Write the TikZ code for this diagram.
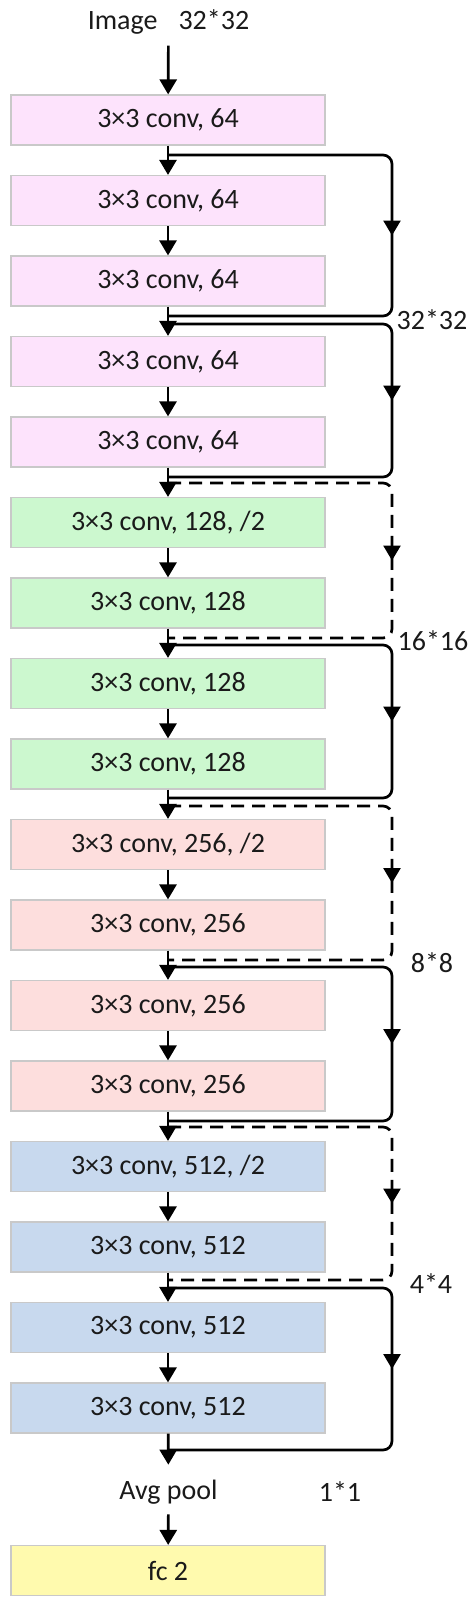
\documentclass[tikz,border=0pt]{standalone}
\usepackage{fontspec}
\setmainfont{Carlito}
\usetikzlibrary{arrows.meta,decorations.markings}
\definecolor{ConvPink}{HTML}{FDE3FC}
\definecolor{ConvGreen}{HTML}{CCF8CF}
\definecolor{ConvRed}{HTML}{FDDEDD}
\definecolor{ConvBlue}{HTML}{C8D9EE}
\definecolor{FcYellow}{HTML}{FFFAAE}
\definecolor{BoxLine}{HTML}{C9C9C9}
\definecolor{InkText}{HTML}{1A1A1A}

\begin{document}
\begin{tikzpicture}[x=1pt,y=-1pt,
    layer/.style={draw=BoxLine,line width=1.2pt,minimum width=314pt,minimum height=50pt,
      inner sep=0pt,text=InkText,font=\fontsize{28}{32}\selectfont},
    lbl/.style={inner sep=0pt,text=InkText,font=\fontsize{28}{32}\selectfont},
    flow/.style={line width=2.7pt,-{Triangle[length=15pt,width=17pt]}},
    skip/.style={line width=2.7pt,rounded corners=9pt,postaction={decorate},
      decoration={markings,mark=at position 0.5 with {\arrow{Triangle[length=15pt,width=17pt]}}}},
    proj/.style={skip,dash pattern=on 13pt off 8pt}]
  \useasboundingbox (0,0) rectangle (474,1604);
  \node[lbl] (img) at (168.5,22) {Image\hspace{21pt}32*32};
  % conv layers
  \foreach \i/\txt/\col in {1/{3×3 conv, 64}/ConvPink,2/{3×3 conv, 64}/ConvPink,3/{3×3 conv, 64}/ConvPink,
      4/{3×3 conv, 64}/ConvPink,5/{3×3 conv, 64}/ConvPink,
      6/{3×3 conv, 128, /2}/ConvGreen,7/{3×3 conv, 128}/ConvGreen,8/{3×3 conv, 128}/ConvGreen,9/{3×3 conv, 128}/ConvGreen,
      10/{3×3 conv, 256, /2}/ConvRed,11/{3×3 conv, 256}/ConvRed,12/{3×3 conv, 256}/ConvRed,13/{3×3 conv, 256}/ConvRed,
      14/{3×3 conv, 512, /2}/ConvBlue,15/{3×3 conv, 512}/ConvBlue,16/{3×3 conv, 512}/ConvBlue,17/{3×3 conv, 512}/ConvBlue} {
    \node[layer,fill=\col] (c\i) at (168,{120+(\i-1)*80.5}) {\txt};
  }
  \node[lbl] (pool) at (168.5,1492) {Avg pool};
  \node[layer,fill=FcYellow] (fc) at (168,1570.5) {fc 2};
  % feature map sizes
  \node[lbl] (s32) at (432,320) {32*32};
  \node[lbl] (s16) at (433,641) {16*16};
  \node[lbl] (s8) at (432,963) {8*8};
  \node[lbl] (s4) at (431,1284) {4*4};
  \node[lbl] (s1) at (340,1492) {1*1};
  % main flow
  \draw[flow,shorten <=11pt] (img) -- (c1);
  \foreach \i [remember=\i as \prev (initially 1)] in {2,...,17} {
    \draw[flow] (c\prev) -- (c\i);
  }
  \draw[flow,shorten >=15pt] (c17) -- (pool);
  \draw[flow,shorten <=10pt] (pool) -- (fc);
  % shortcuts
  \coordinate (rail) at (392,0);
  \foreach \n/\yt/\yb in {a/155/316,b/324/477,c/483/638,d/645/798,e/806/960,f/967/1121,g/1127/1280,h/1288/1450} {
    \coordinate (top\n) at (168,\yt);
    \coordinate (bot\n) at (168,\yb);
  }
  \foreach \n in {a,b,d,f,h}
    \draw[skip] (top\n) -- (top\n -| rail) -- (bot\n -| rail) -- (bot\n);
  \foreach \n in {c,e,g}
    \draw[proj] (top\n) -- (top\n -| rail) -- (bot\n -| rail) -- (bot\n);
\end{tikzpicture}
\end{document}
